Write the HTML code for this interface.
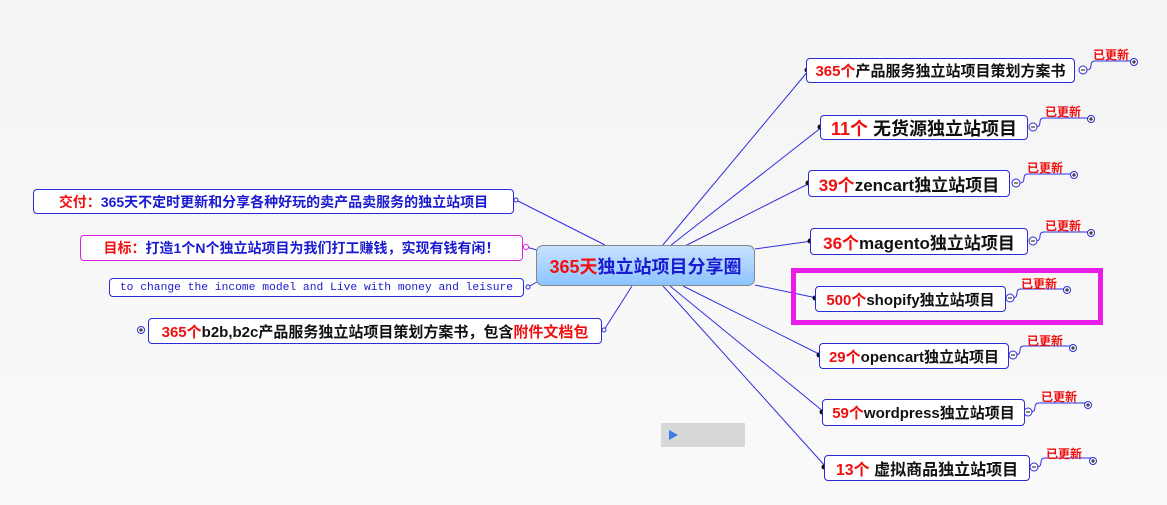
<!DOCTYPE html>
<html><head><meta charset="utf-8"><style>
body{margin:0;width:1167px;height:505px;overflow:hidden;background:linear-gradient(#f4f4f4,#fafafa);font-family:"Liberation Sans","Noto Sans CJK SC",sans-serif;position:relative}
.n{position:absolute;box-sizing:border-box;border:1.5px solid #2b2bd8;border-radius:4px;background:#fff;font-weight:bold;white-space:nowrap;display:flex;align-items:center;justify-content:center;color:#111}
.r{color:#f01010}.b{color:#1a1ad0}
.u{position:absolute;color:#f01010;font-size:12px;font-weight:bold}
svg{position:absolute;left:0;top:0}
</style></head><body>
<svg width="1167" height="505">
<g stroke="#3030e0" stroke-width="1" fill="none">
<line x1="662" y1="246" x2="809" y2="70"/>
<line x1="670" y1="246" x2="822" y2="127"/>
<line x1="685" y1="246" x2="810" y2="183"/>
<line x1="755" y1="249" x2="812" y2="241"/>
<line x1="755" y1="285" x2="817" y2="298"/>
<line x1="683" y1="286" x2="821" y2="355"/>
<line x1="670" y1="286" x2="824" y2="412"/>
<line x1="663" y1="286" x2="826" y2="467"/>
<line x1="605" y1="245" x2="516" y2="200"/>
<line x1="537" y1="250" x2="526" y2="247"/>
<line x1="537" y1="282" x2="528" y2="287"/>
<line x1="632" y1="286" x2="604" y2="330"/>
<path d="M1087 70 q4 0 4 -5 q0 -4 4 -4 H1133"/>
<path d="M1036 127 q4 0 4 -5 q0 -4 4 -4 H1090"/>
<path d="M1020 183 q4 0 4 -5 q0 -4 4 -4 H1073"/>
<path d="M1036 241 q4 0 4 -5 q0 -4 4 -4 H1090"/>
<path d="M1013 298 q4 0 4 -5 q0 -4 4 -4 H1066"/>
<path d="M1016 355 q4 0 4 -5 q0 -4 4 -4 H1072"/>
<path d="M1031 412 q4 0 4 -5 q0 -4 4 -4 H1087"/>
<path d="M1037 467 q4 0 4 -5 q0 -4 4 -4 H1092"/>
</g>
<g fill="#111">
<circle cx="807" cy="70" r="2.5"/><circle cx="820" cy="127" r="2.5"/><circle cx="808" cy="183" r="2.5"/><circle cx="810" cy="241" r="2.5"/><circle cx="815" cy="298" r="2.5"/><circle cx="819" cy="355" r="2.5"/><circle cx="822" cy="412" r="2.5"/><circle cx="824" cy="467" r="2.5"/>
</g>
<g fill="#fff" stroke="#2b2bd8">
<circle cx="1083" cy="70" r="4"/><circle cx="1033" cy="127" r="4"/><circle cx="1016" cy="183" r="4"/><circle cx="1033" cy="241" r="4"/><circle cx="1010" cy="298" r="4"/><circle cx="1013" cy="355" r="4"/><circle cx="1028" cy="412" r="4"/><circle cx="1034" cy="467" r="4"/>
<circle cx="1134" cy="62" r="3.5"/><circle cx="1091" cy="119" r="3.5"/><circle cx="1074" cy="175" r="3.5"/><circle cx="1091" cy="233" r="3.5"/><circle cx="1067" cy="290" r="3.5"/><circle cx="1073" cy="348" r="3.5"/><circle cx="1088" cy="405" r="3.5"/><circle cx="1093" cy="461" r="3.5"/>
<circle cx="516" cy="200" r="2"/><circle cx="528" cy="287" r="2"/><circle cx="604" cy="330" r="2"/><circle cx="141" cy="330" r="3.5"/>
<circle cx="526" cy="247" r="2.5" stroke="#e020e0"/>
</g>
<g stroke="#111" stroke-width="1">
<path d="M1081 70h4M1031 127h4M1014 183h4M1031 241h4M1008 298h4M1011 355h4M1026 412h4M1032 467h4"/>
<path d="M1132 62h4M1134 60v4M1089 119h4M1091 117v4M1072 175h4M1074 173v4M1089 233h4M1091 231v4M1065 290h4M1067 288v4M1071 348h4M1073 346v4M1086 405h4M1088 403v4M1091 461h4M1093 459v4M139 330h4M141 328v4"/>
</g>
<rect x="793.5" y="270.5" width="307" height="52" fill="none" stroke="#e81ee8" stroke-width="5"/>
<rect x="661" y="423" width="84" height="24" fill="#d8d8d8"/>
<polygon points="669,430 669,440 678,435" fill="#3a7ee0"/>
</svg>
<div class="n" style="left:536px;top:245px;width:219px;height:41px;border:1px solid #888;border-radius:7px;background:linear-gradient(#c8e2ff,#8cc4ff);font-size:18px"><span class="r">365天</span><span class="b">独立站项目分享圈</span></div>
<div class="n" style="left:806px;top:58px;width:269px;height:25px;font-size:15px"><span class="r">365个</span>产品服务独立站项目策划方案书</div>
<div class="n" style="left:820px;top:115px;width:208px;height:25px;font-size:18px"><span class="r">11个</span>&nbsp;无货源独立站项目</div>
<div class="n" style="left:808px;top:170px;width:202px;height:27px;font-size:17px"><span class="r">39个</span>zencart独立站项目</div>
<div class="n" style="left:810px;top:228px;width:218px;height:27px;font-size:17px"><span class="r">36个</span>magento独立站项目</div>
<div class="n" style="left:815px;top:286px;width:191px;height:26px;font-size:15px"><span class="r">500个</span>shopify独立站项目</div>
<div class="n" style="left:819px;top:343px;width:190px;height:26px;font-size:15px"><span class="r">29个</span>opencart独立站项目</div>
<div class="n" style="left:822px;top:399px;width:203px;height:27px;font-size:15px"><span class="r">59个</span>wordpress独立站项目</div>
<div class="n" style="left:824px;top:455px;width:206px;height:26px;font-size:16px"><span class="r">13个</span>&nbsp;虚拟商品独立站项目</div>
<div class="u" style="left:1093px;top:46px">已更新</div>
<div class="u" style="left:1045px;top:103px">已更新</div>
<div class="u" style="left:1027px;top:159px">已更新</div>
<div class="u" style="left:1045px;top:217px">已更新</div>
<div class="u" style="left:1021px;top:275px">已更新</div>
<div class="u" style="left:1027px;top:332px">已更新</div>
<div class="u" style="left:1041px;top:388px">已更新</div>
<div class="u" style="left:1046px;top:445px">已更新</div>
<div class="n b" style="left:33px;top:189px;width:481px;height:25px;font-size:14px"><span class="r">交付：</span>365天不定时更新和分享各种好玩的卖产品卖服务的独立站项目</div>
<div class="n b" style="left:80px;top:235px;width:443px;height:26px;font-size:14px;border-color:#e020e0"><span class="r">目标：</span>打造1个N个独立站项目为我们打工赚钱，实现有钱有闲！</div>
<div class="n b" style="left:109px;top:278px;width:415px;height:19px;font-size:11.3px;font-weight:normal;font-family:'Liberation Mono',monospace">to change the income model and Live with money and leisure</div>
<div class="n" style="left:148px;top:318px;width:454px;height:26px;font-size:15px"><span class="r">365个</span>b2b,b2c产品服务独立站项目策划方案书，包含<span class="r">附件文档包</span></div>
</body></html>
